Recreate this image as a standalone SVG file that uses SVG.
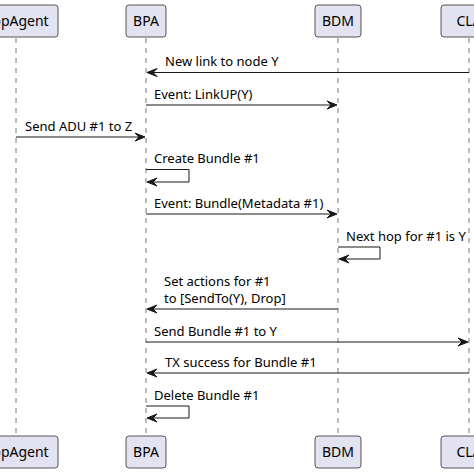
<svg xmlns="http://www.w3.org/2000/svg" width="474" height="474" viewBox="0 0 474 474">
<style>
.box{fill:#E2E2F0;stroke:#555;stroke-width:1}
.pt{font-family:"Noto Sans","Open Sans",sans-serif;font-size:14px;fill:#000;text-anchor:middle}
.life{stroke:#555;stroke-width:0.8;stroke-dasharray:5,5;fill:none}
.msg{stroke:#181818;stroke-width:1;fill:none}
.ah{fill:#181818;stroke:#181818;stroke-width:1}
.mt{font-family:"Noto Sans","Open Sans",sans-serif;font-size:13px;fill:#000}
</style>
<defs>
<polygon id="ar" class="ah" points="0,0 -10,-4 -6,0 -10,4"/>
</defs>
<rect width="474" height="474" fill="#fff"/>
<g id="lifelines">
<line class="life" x1="16" y1="38" x2="16" y2="436"/>
<line class="life" x1="146" y1="38" x2="146" y2="436"/>
<line class="life" x1="338" y1="38" x2="338" y2="436"/>
<line class="life" x1="469" y1="38" x2="469" y2="436"/>
</g>
<g id="AppAgent">
<rect class="box" x="-26" y="5" width="84" height="32" rx="3"/>
<text class="pt" x="16" y="26">AppAgent</text>
<rect class="box" x="-26" y="436" width="84" height="32" rx="3"/>
<text class="pt" x="16" y="457">AppAgent</text>
</g>
<g id="BPA">
<rect class="box" x="126" y="5" width="40" height="32" rx="3"/>
<text class="pt" x="146" y="26">BPA</text>
<rect class="box" x="126" y="436" width="40" height="32" rx="3"/>
<text class="pt" x="146" y="457">BPA</text>
</g>
<g id="BDM">
<rect class="box" x="315" y="5" width="46" height="32" rx="3"/>
<text class="pt" x="338" y="26">BDM</text>
<rect class="box" x="315" y="436" width="46" height="32" rx="3"/>
<text class="pt" x="338" y="457">BDM</text>
</g>
<g id="CLA">
<rect class="box" x="441" y="5" width="56" height="32" rx="3"/>
<text class="pt" x="469" y="26">CLA</text>
<rect class="box" x="441" y="436" width="56" height="32" rx="3"/>
<text class="pt" x="469" y="457">CLA</text>
</g>
<g id="connectors">
<line class="msg" x1="469" y1="72.5" x2="148" y2="72.5"/>
<use href="#ar" transform="translate(147,72.5) rotate(180)"/>
<text class="mt" x="165" y="66">New link to node Y</text>

<line class="msg" x1="146" y1="105" x2="336" y2="105"/>
<use href="#ar" transform="translate(337,105)"/>
<text class="mt" x="154" y="99">Event: LinkUP(Y)</text>

<line class="msg" x1="16" y1="137" x2="144" y2="137"/>
<use href="#ar" transform="translate(145,137)"/>
<text class="mt" x="25" y="131">Send ADU #1 to Z</text>

<path class="msg" d="M146,169.5 H189 V182 H148"/>
<use href="#ar" transform="translate(147,182) rotate(180)"/>
<text class="mt" x="154" y="163">Create Bundle #1</text>

<line class="msg" x1="146" y1="214" x2="336" y2="214"/>
<use href="#ar" transform="translate(337,214)"/>
<text class="mt" x="154" y="208">Event: Bundle(Metadata #1)</text>

<path class="msg" d="M338,247 H380 V259 H340"/>
<use href="#ar" transform="translate(339,259) rotate(180)"/>
<text class="mt" x="346" y="241">Next hop for #1 is Y</text>

<line class="msg" x1="338" y1="309" x2="148" y2="309"/>
<use href="#ar" transform="translate(147,309) rotate(180)"/>
<text class="mt" x="164" y="286">Set actions for #1</text>
<text class="mt" x="164" y="303">to [SendTo(Y), Drop]</text>

<line class="msg" x1="146" y1="342" x2="467" y2="342"/>
<use href="#ar" transform="translate(468,342)"/>
<text class="mt" x="154" y="336">Send Bundle #1 to Y</text>

<line class="msg" x1="469" y1="373" x2="148" y2="373"/>
<use href="#ar" transform="translate(147,373) rotate(180)"/>
<text class="mt" x="165" y="367">TX success for Bundle #1</text>

<path class="msg" d="M146,406 H189 V418 H148"/>
<use href="#ar" transform="translate(147,418) rotate(180)"/>
<text class="mt" x="154" y="400">Delete Bundle #1</text>
</g>
</svg>
